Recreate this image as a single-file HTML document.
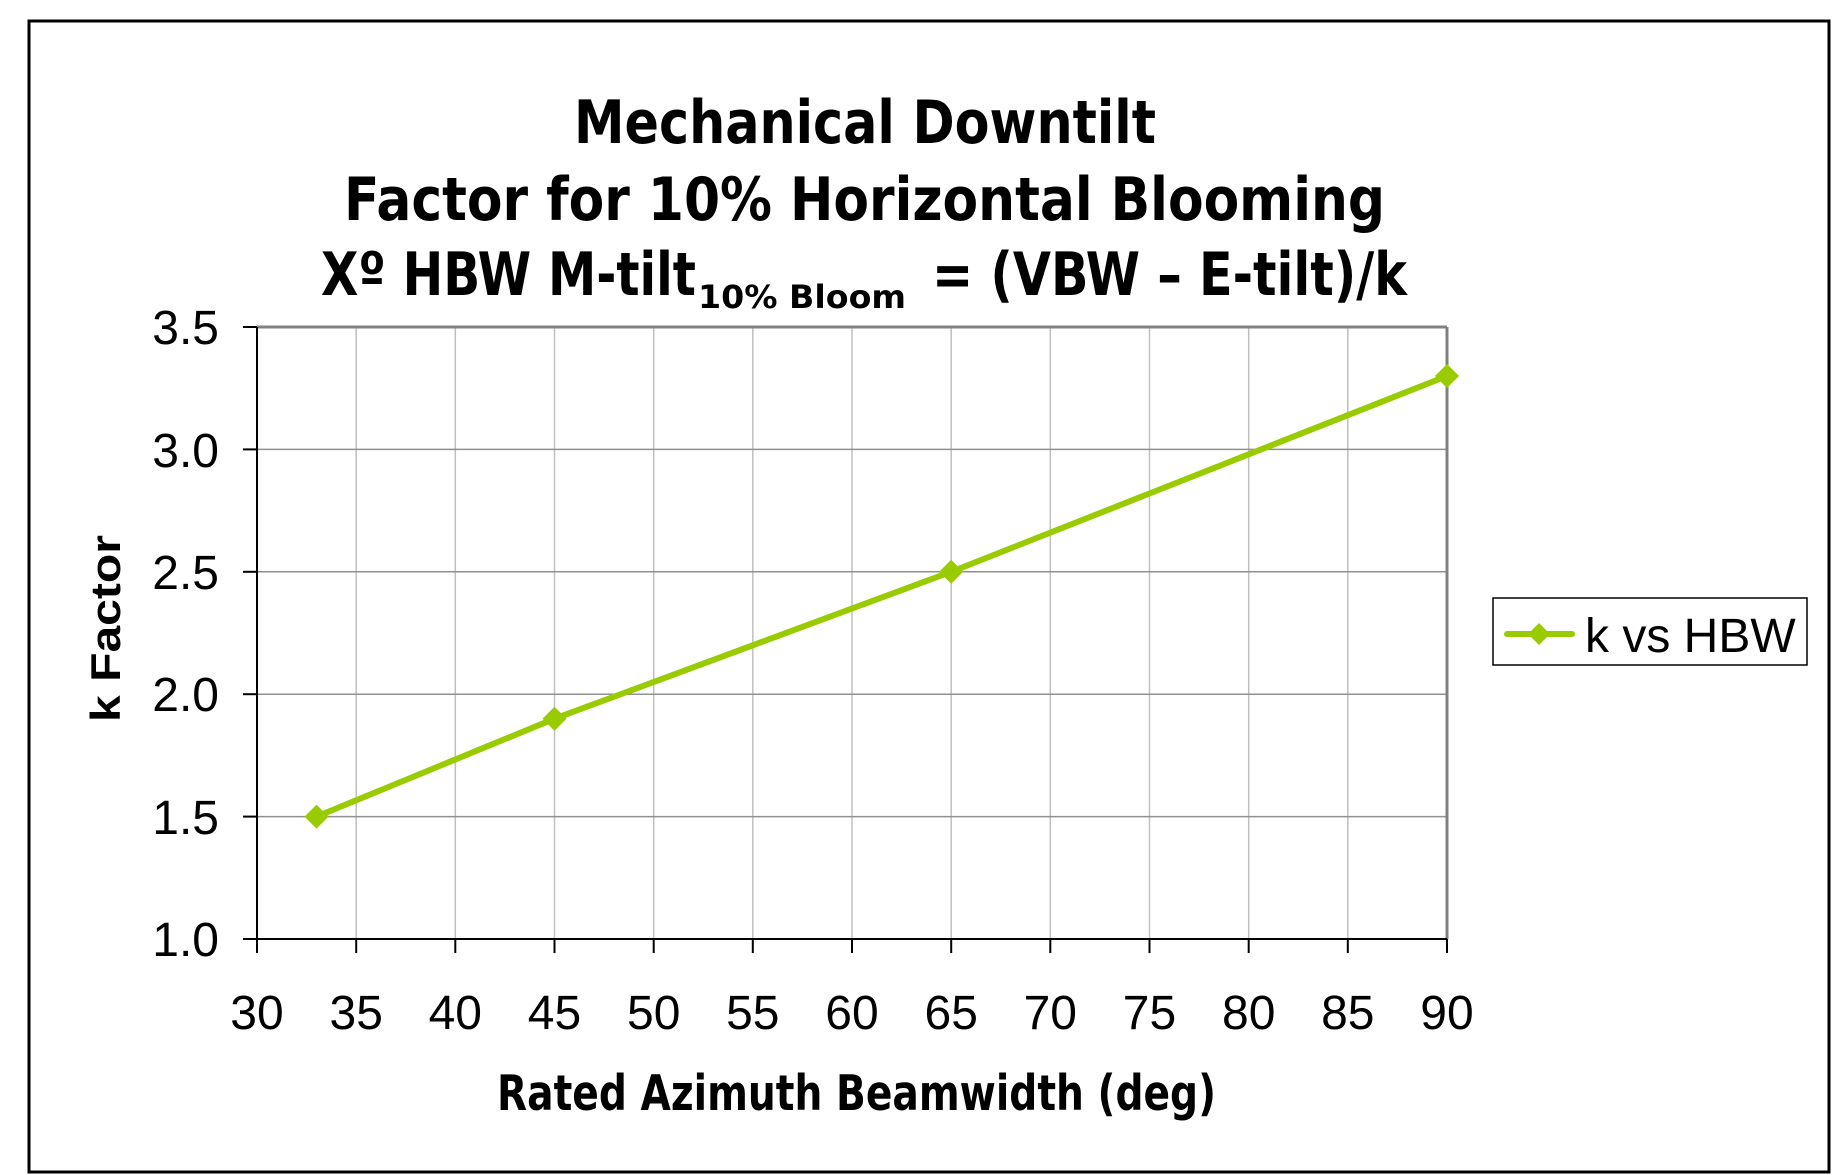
<!DOCTYPE html>
<html><head><meta charset="utf-8"><style>html,body{margin:0;padding:0;background:#fff}svg{display:block}</style></head>
<body>
<svg width="1840" height="1175" viewBox="0 0 1840 1175" xmlns="http://www.w3.org/2000/svg">
<rect x="0" y="0" width="1840" height="1175" fill="#fff"/>
<rect x="29" y="21" width="1800" height="1151" fill="none" stroke="#000" stroke-width="3"/>
<g font-family="DejaVu Sans, sans-serif" font-weight="bold" fill="#000">
<text x="574" y="143" font-size="60" textLength="582" lengthAdjust="spacingAndGlyphs">Mechanical Downtilt</text>
<text x="344" y="220" font-size="60" textLength="1041" lengthAdjust="spacingAndGlyphs">Factor for 10% Horizontal Blooming</text>
<text x="321" y="295" font-size="60" textLength="375" lengthAdjust="spacingAndGlyphs">Xº HBW M-tilt</text>
<text x="698" y="308" font-size="32" textLength="208" lengthAdjust="spacingAndGlyphs">10% Bloom</text>
<text x="932" y="295" font-size="60" textLength="475" lengthAdjust="spacingAndGlyphs">= (VBW – E-tilt)/k</text>
<text x="497" y="1110" font-size="49" textLength="719" lengthAdjust="spacingAndGlyphs">Rated Azimuth Beamwidth (deg)</text>
</g>
<text transform="translate(120,722) rotate(-90)" font-family="Liberation Sans, sans-serif" font-weight="bold" font-size="42" textLength="187" lengthAdjust="spacingAndGlyphs">k Factor</text>
<g stroke="#c0c0c0" stroke-width="1.5">
<line x1="356.2" y1="327" x2="356.2" y2="939"/><line x1="455.3" y1="327" x2="455.3" y2="939"/><line x1="554.5" y1="327" x2="554.5" y2="939"/><line x1="653.7" y1="327" x2="653.7" y2="939"/><line x1="752.8" y1="327" x2="752.8" y2="939"/><line x1="852" y1="327" x2="852" y2="939"/><line x1="951.2" y1="327" x2="951.2" y2="939"/><line x1="1050.3" y1="327" x2="1050.3" y2="939"/><line x1="1149.5" y1="327" x2="1149.5" y2="939"/><line x1="1248.7" y1="327" x2="1248.7" y2="939"/><line x1="1347.8" y1="327" x2="1347.8" y2="939"/>
</g>
<g stroke="#909090" stroke-width="1.5">
<line x1="257" y1="449.4" x2="1447" y2="449.4"/><line x1="257" y1="571.8" x2="1447" y2="571.8"/><line x1="257" y1="694.2" x2="1447" y2="694.2"/><line x1="257" y1="816.6" x2="1447" y2="816.6"/>
</g>
<line x1="257" y1="327" x2="1447" y2="327" stroke="#808080" stroke-width="3"/>
<line x1="1447" y1="327" x2="1447" y2="939" stroke="#808080" stroke-width="3"/>
<g stroke="#000" stroke-width="2">
<line x1="257" y1="327" x2="257" y2="953"/>
<line x1="243" y1="939" x2="1447" y2="939"/>
<line x1="243" y1="327" x2="257" y2="327"/><line x1="243" y1="449.4" x2="257" y2="449.4"/><line x1="243" y1="571.8" x2="257" y2="571.8"/><line x1="243" y1="694.2" x2="257" y2="694.2"/><line x1="243" y1="816.6" x2="257" y2="816.6"/>
<line x1="356.2" y1="939" x2="356.2" y2="953"/><line x1="455.3" y1="939" x2="455.3" y2="953"/><line x1="554.5" y1="939" x2="554.5" y2="953"/><line x1="653.7" y1="939" x2="653.7" y2="953"/><line x1="752.8" y1="939" x2="752.8" y2="953"/><line x1="852" y1="939" x2="852" y2="953"/><line x1="951.2" y1="939" x2="951.2" y2="953"/><line x1="1050.3" y1="939" x2="1050.3" y2="953"/><line x1="1149.5" y1="939" x2="1149.5" y2="953"/><line x1="1248.7" y1="939" x2="1248.7" y2="953"/><line x1="1347.8" y1="939" x2="1347.8" y2="953"/><line x1="1447" y1="939" x2="1447" y2="953"/>
</g>
<g font-family="Liberation Sans, sans-serif" font-size="48" fill="#000" text-anchor="end">
<text x="219" y="344">3.5</text><text x="219" y="467">3.0</text><text x="219" y="589">2.5</text><text x="219" y="711">2.0</text><text x="219" y="834">1.5</text><text x="219" y="956">1.0</text>
</g>
<g font-family="Liberation Sans, sans-serif" font-size="48" fill="#000" text-anchor="middle">
<text x="257" y="1029">30</text><text x="356.2" y="1029">35</text><text x="455.3" y="1029">40</text><text x="554.5" y="1029">45</text><text x="653.7" y="1029">50</text><text x="752.8" y="1029">55</text><text x="852" y="1029">60</text><text x="951.2" y="1029">65</text><text x="1050.3" y="1029">70</text><text x="1149.5" y="1029">75</text><text x="1248.7" y="1029">80</text><text x="1347.8" y="1029">85</text><text x="1447" y="1029">90</text>
</g>
<polyline points="316.5,816.6 554.5,718.7 951.2,571.8 1447,376" fill="none" stroke="#99cc00" stroke-width="6"/>
<g fill="#99cc00">
<polygon points="316.5,804.6 328.5,816.6 316.5,828.6 304.5,816.6"/>
<polygon points="554.5,706.7 566.5,718.7 554.5,730.7 542.5,718.7"/>
<polygon points="951.2,559.8 963.2,571.8 951.2,583.8 939.2,571.8"/>
<polygon points="1447,364 1459,376 1447,388 1435,376"/>
</g>
<rect x="1493" y="598" width="314" height="67" fill="#fff" stroke="#000" stroke-width="1.5"/>
<line x1="1507" y1="634" x2="1572" y2="634" stroke="#99cc00" stroke-width="6" stroke-linecap="round"/>
<polygon points="1539,623 1550,634 1539,645 1528,634" fill="#99cc00"/>
<text x="1585" y="652" font-family="Liberation Sans, sans-serif" font-size="48" fill="#000">k vs HBW</text>
</svg>
</body></html>
